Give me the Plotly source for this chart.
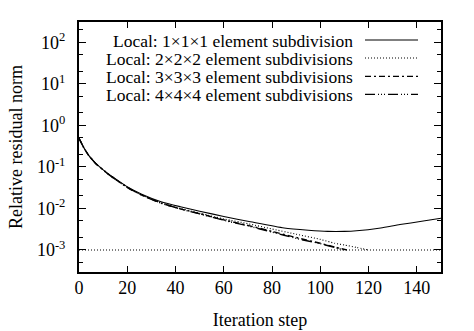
import plotly.graph_objects as go

# ---- data ----
x_1 = [0, 2, 4, 7, 9.4, 12, 15, 20.5, 26, 34, 42, 50, 60, 71, 85, 95, 103, 110, 115, 125, 133, 142, 150]
y_1 = [0.49, 0.29, 0.19, 0.12, 0.091, 0.068, 0.052, 0.032, 0.022, 0.0145, 0.011, 0.0086, 0.0064,
       0.0048, 0.0034, 0.0030, 0.0028, 0.0028, 0.0029, 0.0034, 0.0041, 0.0049, 0.0058]

x_2 = [0, 2, 4, 7, 9.4, 12, 15, 20.5, 26, 34, 42, 50, 60, 70, 80, 90, 100, 106, 110, 115, 120]
y_2 = [0.49, 0.29, 0.19, 0.12, 0.091, 0.068, 0.051, 0.031, 0.021, 0.0138, 0.0100, 0.0077, 0.0056,
       0.0043, 0.0032, 0.0024, 0.0018, 0.00145, 0.00132, 0.00115, 0.0010]

x_3 = [0, 2, 4, 7, 9.4, 12, 15, 20.5, 26, 34, 42, 50, 60, 70, 80, 90, 100, 106, 111]
y_3 = [0.49, 0.29, 0.19, 0.12, 0.091, 0.068, 0.051, 0.031, 0.021, 0.0135, 0.0098, 0.0075, 0.0053,
       0.0039, 0.0028, 0.0020, 0.00145, 0.00118, 0.0010]

x_4 = [0, 2, 4, 7, 9.4, 12, 15, 20.5, 26, 34, 42, 50, 60, 70, 80, 90, 100, 106, 110]
y_4 = [0.49, 0.29, 0.19, 0.12, 0.091, 0.068, 0.051, 0.031, 0.021, 0.0134, 0.0097, 0.0074, 0.0052,
       0.0038, 0.0027, 0.0019, 0.00142, 0.00115, 0.0010]

tol_x = [0, 150]
tol_y = [1e-3, 1e-3]

legend_labels = ["Local: 1×1×1 element subdivision",
                 "Local: 2×2×2 element subdivisions",
                 "Local: 3×3×3 element subdivisions",
                 "Local: 4×4×4 element subdivisions"]

x_ticks = [0, 20, 40, 60, 80, 100, 120, 140]
y_ticks = [1e-3, 1e-2, 1e-1, 1e0, 1e1, 1e2]
y_ticktext = ["10<sup>-3</sup>", "10<sup>-2</sup>", "10<sup>-1</sup>",
              "10<sup>0</sup>", "10<sup>1</sup>", "10<sup>2</sup>"]
y_minor = [2e-4, 5e-4, 2e-3, 5e-3, 2e-2, 5e-2, 2e-1, 5e-1, 2, 5, 20, 50, 200]

# ---- styles ----
FONT = "Liberation Serif"
dashes = ["solid", "1px,2px", "6px,3px,2px,3px", "10px,3px,1px,2px,1px,2px,1px,3px"]
widths = [1.1, 1.1, 1.4, 1.4]

fig = go.Figure()
for xs, ys, d, w, name in zip([x_1, x_2, x_3, x_4], [y_1, y_2, y_3, y_4], dashes, widths, legend_labels):
    fig.add_trace(go.Scatter(x=xs, y=ys, mode="lines", name=name, showlegend=False,
                             line=dict(color="black", width=w, dash=d, shape="spline", smoothing=0.6)))
fig.add_trace(go.Scatter(x=tol_x, y=tol_y, mode="lines", showlegend=False,
                         line=dict(color="black", width=1.1, dash="1px,2px")))

# manual gnuplot-style legend (text right, sample line on the right)
L, R, T, B = 79, 441, 21.5, 272
def px(x):
    return (x - L) / (R - L)
def py(y):
    return (B - y) / (B - T)

rows = [39.5, 57.5, 76, 94]
for lab, d, w, ry in zip(legend_labels, dashes, widths, rows):
    fig.add_annotation(x=px(355), y=py(ry + 1), xref="paper", yref="paper", text=lab,
                       showarrow=False, xanchor="right", yanchor="middle",
                       font=dict(family=FONT, size=17.5, color="black"))
    fig.add_shape(type="line", xref="paper", yref="paper",
                  x0=px(365), x1=px(418), y0=py(ry), y1=py(ry),
                  line=dict(color="black", width=w, dash=d))

axis_common = dict(showline=True, linecolor="black", linewidth=2, mirror="allticks",
                   ticks="inside", tickcolor="black", tickwidth=1, showgrid=False,
                   zeroline=False, automargin=False,
                   tickfont=dict(family=FONT, size=18, color="black"))

fig.update_xaxes(range=[0, 150], tickmode="array", tickvals=x_ticks, ticklen=6,
                 title=dict(text="Iteration step", font=dict(family=FONT, size=18, color="black"),
                            standoff=17),
                 ticklabelstandoff=-2, **axis_common)
fig.update_yaxes(type="log", range=[-3.53, 2.49], tickmode="array", tickvals=y_ticks,
                 ticktext=y_ticktext, ticklen=7,
                 minor=dict(tickmode="array", tickvals=y_minor, ticks="inside", ticklen=4,
                            tickcolor="black", tickwidth=1, showgrid=False),
                 title=dict(text="Relative residual norm", font=dict(family=FONT, size=18, color="black"),
                            standoff=10),
                 ticklabelstandoff=8, **axis_common)

fig.update_layout(width=474, height=331, margin=dict(l=79, r=33, t=21.5, b=59),
                  plot_bgcolor="white", paper_bgcolor="white",
                  font=dict(family=FONT, size=18, color="black"))

fig.write_html("out.html")
